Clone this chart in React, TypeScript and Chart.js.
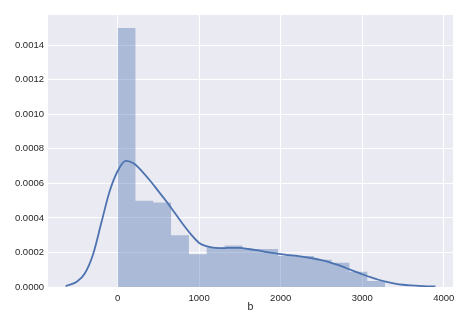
import React, { useEffect, useRef } from 'react';
import { Chart, registerables } from 'chart.js';

Chart.register(...registerables);

// Histogram bin edges (b) and density heights
const binEdges = [0, 219, 437, 656, 875, 1093, 1312, 1531, 1750, 1968, 2187, 2406, 2624, 2843, 3062, 3280];
const binDensity = [
  0.0015, 0.0005, 0.00049, 0.0003, 0.00019, 0.00023, 0.00024, 0.00022,
  0.00022, 0.00018, 0.00018, 0.000158, 0.00014, 0.000088, 0.000035,
];

// KDE curve
const kdeX = [
  -636, -500, -400, -300, -200, -100, 0, 100, 200, 300, 400, 500, 600, 700, 800, 900,
  1000, 1100, 1200, 1300, 1400, 1500, 1600, 1700, 1800, 1900, 2000, 2100, 2200, 2300,
  2400, 2500, 2600, 2700, 2800, 2900, 3000, 3100, 3200, 3300, 3400, 3500, 3600, 3700,
  3800, 3896,
];
const kdeY = [
  0.000005, 0.00003, 0.00008, 0.00019, 0.00037, 0.00055, 0.00067, 0.00073, 0.000715,
  0.00067, 0.000615, 0.000555, 0.000495, 0.00043, 0.000365, 0.000305, 0.000255, 0.000235,
  0.000226, 0.000225, 0.000227, 0.000226, 0.00022, 0.000213, 0.000205, 0.000197,
  0.00019, 0.000185, 0.00018, 0.000173, 0.000165, 0.000155, 0.000143, 0.000128,
  0.00011, 0.000092, 0.000074, 0.000057, 0.000042, 0.00003, 0.00002, 0.000013,
  0.000009, 0.000006, 0.000004, 0.000003,
];

const xTicks = [0, 1000, 2000, 3000, 4000];
const yTicks = [0, 0.0002, 0.0004, 0.0006, 0.0008, 0.001, 0.0012, 0.0014];
const xMin = -853;
const xMax = 4113;
const yMin = 0;
const yMax = 0.001575;
const xTitle = 'b';

const FONT = '"Liberation Sans", Arial, sans-serif';
const TEXT = '#262626';

const bgPlugin = {
  id: 'plotBg',
  beforeDraw(chart: any) {
    const { ctx, chartArea } = chart;
    if (!chartArea) return;
    ctx.save();
    ctx.fillStyle = '#EAEAF2';
    ctx.fillRect(chartArea.left, chartArea.top, chartArea.right - chartArea.left, chartArea.bottom - chartArea.top);
    ctx.restore();
  },
};

export default function App() {
  const ref = useRef<HTMLCanvasElement | null>(null);

  useEffect(() => {
    if (!ref.current) return;
    const histData = binEdges.map((e, i) => ({ x: e, y: i < binDensity.length ? binDensity[i] : 0 }));
    const kdeData = kdeX.map((x, i) => ({ x, y: kdeY[i] }));
    const chart = new Chart(ref.current, {
      type: 'line',
      data: {
        datasets: [
          {
            label: 'kde',
            data: kdeData,
            borderColor: '#4C72B0',
            borderWidth: 1.8,
            pointRadius: 0,
            fill: false,
            cubicInterpolationMode: 'monotone',
          },
          {
            label: 'hist',
            data: histData,
            stepped: 'before',
            borderColor: 'rgba(0,0,0,0)',
            borderWidth: 0,
            pointRadius: 0,
            fill: 'origin',
            backgroundColor: 'rgba(76,114,176,0.4)',
          },
        ],
      },
      options: {
        animation: false,
        responsive: false,
        devicePixelRatio: 1,
        layout: { padding: { left: 0, right: 21, top: 15, bottom: 0 } },
        plugins: { legend: { display: false }, tooltip: { enabled: false } },
        scales: {
          x: {
            type: 'linear',
            min: xMin,
            max: xMax,
            afterFit: (s: any) => { s.height = 28; },
            afterBuildTicks: (s: any) => { s.ticks = xTicks.map((v) => ({ value: v })); },
            grid: { color: '#FFFFFF', lineWidth: 1, drawTicks: false },
            border: { display: false },
            ticks: {
              padding: 6,
              color: TEXT,
              font: { family: FONT, size: 9.5 },
              callback: (v: any) => String(v),
            },
            title: {
              display: true,
              text: xTitle,
              color: TEXT,
              font: { family: FONT, size: 10.5 },
              padding: { top: 0, bottom: 2 },
            },
          },
          y: {
            type: 'linear',
            min: yMin,
            max: yMax,
            afterFit: (s: any) => { s.width = 48; },
            afterBuildTicks: (s: any) => { s.ticks = yTicks.map((v) => ({ value: v })); },
            grid: { color: '#FFFFFF', lineWidth: 1, drawTicks: false },
            border: { display: false },
            ticks: {
              padding: 4,
              color: TEXT,
              font: { family: FONT, size: 9.5 },
              callback: (v: any) => Number(v).toFixed(4),
            },
          },
        },
      },
      plugins: [bgPlugin],
    });
    return () => chart.destroy();
  }, []);

  return (
    <div style={{ position: 'fixed', left: 0, top: 0, width: 474, height: 315, background: '#FFFFFF' }}>
      <canvas ref={ref} width={474} height={315} style={{ display: 'block' }} />
    </div>
  );
}
